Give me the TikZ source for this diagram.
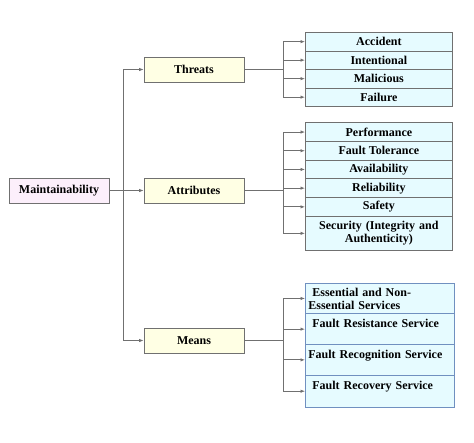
\documentclass[tikz,border=0pt]{standalone}
\usepackage{fontspec}
\setmainfont{Liberation Serif}
\usetikzlibrary{arrows.meta}
\definecolor{linegray}{HTML}{707070}
\definecolor{mainfill}{HTML}{FCEFFB}
\definecolor{catfill}{HTML}{FFFFE4}
\definecolor{itemfill}{HTML}{E6FBFF}
\definecolor{srvblue}{HTML}{7090C0}
\tikzset{
  mainbox/.style={draw=linegray, fill=mainfill, minimum width=100pt, minimum height=25pt, inner sep=0pt},
  catbox/.style={draw=linegray, fill=catfill, minimum width=100pt, minimum height=25pt, inner sep=0pt},
  itembox/.style={draw=linegray, fill=itemfill, anchor=north west, minimum width=147pt, minimum height=18.6pt, inner sep=0pt},
  srvbox/.style={draw=srvblue, fill=itemfill, anchor=north west, text width=143pt, align=left, inner xsep=3pt, inner ysep=0pt, minimum height=30.7pt},
  srvtop/.style={srvbox, text depth=11.5pt},
}
\begin{document}
\begin{tikzpicture}[x=1pt, y=-1pt, font=\fontsize{12}{13}\selectfont\bfseries,
    >={Latex[length=4.5pt,width=3.5pt]}, line width=0.8pt]
    \useasboundingbox (0,0) rectangle (474,442);

    \node[mainbox] (main) at (59,190.5) {Maintainability};
    \node[catbox] (threats) at (194,69.5) {Threats};
    \node[catbox] (attr) at (194,190.5) {Attributes};
    \node[catbox] (means) at (194,340.5) {Means};

    % threats
    \node[itembox, minimum height=18.5pt] (acc) at (305,32) {Accident};
    \node[itembox, minimum height=18.5pt] (intent) at (305,50.5) {Intentional};
    \node[itembox, minimum height=18.5pt] (malic) at (305,69) {Malicious};
    \node[itembox, minimum height=18.5pt] (fail) at (305,87.5) {Failure};

    % attributes
    \node[itembox, minimum height=18.7pt] (perf) at (305,122.3) {Performance};
    \node[itembox, minimum height=18.7pt] (ftol) at (305,141) {Fault Tolerance};
    \node[itembox, minimum height=18.7pt] (avail) at (305,159.7) {Availability};
    \node[itembox, minimum height=18.7pt] (reli) at (305,178.4) {Reliability};
    \node[itembox, minimum height=18.7pt] (safe) at (305,197.1) {Safety};
    \node[itembox, minimum height=34.3pt, text width=143pt, align=center] (secu) at (305,215.8) {Security (Integrity and\\Authenticity)};

    % means
    \node[srvbox] (ess) at (305,282.7) {\hspace*{4pt}Essential and Non-\\Essential Services};
    \node[srvtop] (fres) at (305,313.4) {\hspace*{4pt}Fault Resistance Service};
    \node[srvtop] (frec) at (305,344.1) {Fault Recognition Service};
    \node[srvtop, minimum height=32pt] (frecov) at (305,374.8) {\hspace*{4pt}Fault Recovery Service};

    \coordinate (trunk) at (123,190.5);
    \coordinate (tsplit) at (283,69.5);
    \coordinate (asplit) at (283,190.5);
    \coordinate (msplit) at (283,340.5);

    \draw[->, linegray] (main) -- (attr);
    \draw[->, linegray] (trunk) |- (threats);
    \draw[->, linegray] (trunk) |- (means);

    \draw[linegray] (threats) -- (tsplit);
    \draw[->, linegray] (tsplit) |- (acc.west);
    \draw[->, linegray] (tsplit) |- (intent.west);
    \draw[->, linegray] (tsplit) |- (malic.west);
    \draw[->, linegray] (tsplit) |- (fail.west);

    \draw[linegray] (attr) -- (asplit);
    \draw[->, linegray] (asplit) |- (perf.west);
    \draw[->, linegray] (asplit) |- (ftol.west);
    \draw[->, linegray] (asplit) |- (avail.west);
    \draw[->, linegray] (asplit) |- (reli.west);
    \draw[->, linegray] (asplit) |- (safe.west);
    \draw[->, linegray] (asplit) |- (secu.west);

    \draw[linegray] (means) -- (msplit);
    \draw[->, linegray] (msplit) |- (ess.west);
    \draw[->, linegray] (msplit) |- (fres.west);
    \draw[->, linegray] (msplit) |- (frec.west);
    \draw[->, linegray] (msplit) |- (frecov.west);
\end{tikzpicture}
\end{document}
